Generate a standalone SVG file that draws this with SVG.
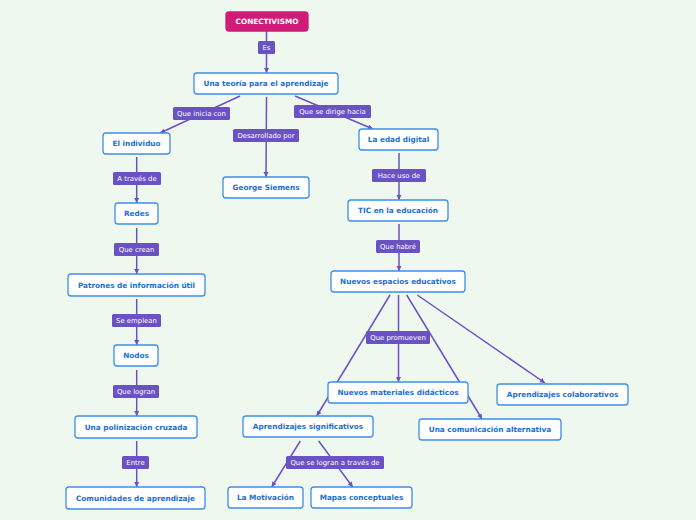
<svg xmlns="http://www.w3.org/2000/svg" width="696" height="520" viewBox="0 0 696 520">
<defs>
<marker id="ah" viewBox="0 0 10 10" refX="10" refY="5" markerWidth="5" markerHeight="5" markerUnits="userSpaceOnUse" orient="auto" overflow="visible">
<path d="M0,0 L10,5 L0,10 z" fill="#6b52c4"/>
</marker>
<style>
.n rect{fill:#ffffff;stroke:#3b8ee8;stroke-width:1.3}
.n text{font-family:"DejaVu Sans",Verdana,sans-serif;font-weight:bold;font-size:7.3px;fill:#1a6fd0;text-anchor:middle}
.root rect{fill:#d01b78;stroke:#d01b78}
.root text{fill:#ffffff}
.c line{stroke:#6b52c4;stroke-width:1.5;fill:none}
.c .a{marker-end:url(#ah)}
.l rect{fill:#6b52c4}
.l text{font-family:"DejaVu Sans",Verdana,sans-serif;font-size:6.9px;fill:#ffffff;text-anchor:middle}
</style>
</defs>
<rect width="696" height="520" fill="#eff8ee"/>
<g id="connectors" class="c">
<line class="a" x1="266.5" y1="31" x2="266.5" y2="73"/>
<line class="a" x1="240" y1="96" x2="160" y2="133"/>
<line class="a" x1="266.5" y1="97" x2="266" y2="177"/>
<line class="a" x1="295" y1="96" x2="373" y2="129"/>
<line class="a" x1="136.7" y1="157" x2="136.7" y2="203"/>
<line class="a" x1="136.7" y1="228" x2="136.7" y2="274"/>
<line class="a" x1="136.7" y1="299" x2="136.7" y2="345"/>
<line class="a" x1="136.7" y1="370" x2="136.7" y2="416"/>
<line class="a" x1="136.7" y1="441" x2="136.7" y2="487"/>
<line class="a" x1="399" y1="153" x2="399" y2="200"/>
<line class="a" x1="399" y1="224" x2="399" y2="271"/>
<line class="a" x1="390" y1="295" x2="316.7" y2="416"/>
<line class="a" x1="398.5" y1="295" x2="398.5" y2="382"/>
<line class="a" x1="406.7" y1="295" x2="482" y2="419"/>
<line class="a" x1="417.3" y1="295" x2="545" y2="383"/>
<line class="a" x1="300.3" y1="441" x2="271.7" y2="487"/>
<line class="a" x1="318.7" y1="441" x2="352.7" y2="487"/>
</g>
<g id="labels" class="l">
<g id="l-es"><rect x="258" y="41" width="17" height="13" rx="1.5"/><text x="266.5" y="50">Es</text></g>
<g id="l-inicia"><rect x="173" y="107" width="57" height="13" rx="1.5"/><text x="201.5" y="116">Que inicia con</text></g>
<g id="l-desarrollado"><rect x="233" y="129" width="66" height="13" rx="1.5"/><text x="266" y="138">Desarrollado por</text></g>
<g id="l-dirige"><rect x="294" y="105" width="77" height="13" rx="1.5"/><text x="332.5" y="114">Que se dirige hacia</text></g>
<g id="l-traves"><rect x="113" y="172" width="48" height="13" rx="1.5"/><text x="137" y="181">A través de</text></g>
<g id="l-crean"><rect x="114" y="243" width="45" height="13" rx="1.5"/><text x="136.5" y="252">Que crean</text></g>
<g id="l-emplean"><rect x="112" y="314" width="49" height="13" rx="1.5"/><text x="136.5" y="323">Se emplean</text></g>
<g id="l-logran"><rect x="113" y="385" width="46" height="13" rx="1.5"/><text x="136" y="394">Que logran</text></g>
<g id="l-entre"><rect x="122" y="456" width="27" height="13" rx="1.5"/><text x="135.5" y="465">Entre</text></g>
<g id="l-hace"><rect x="372" y="169" width="54" height="13" rx="1.5"/><text x="399" y="178">Hace uso de</text></g>
<g id="l-habre"><rect x="376" y="240" width="44" height="13" rx="1.5"/><text x="398" y="249">Que habré</text></g>
<g id="l-promueven"><rect x="366" y="331" width="64" height="13" rx="1.5"/><text x="398" y="340">Que promueven</text></g>
<g id="l-logran2"><rect x="286" y="456" width="98" height="13" rx="1.5"/><text x="335" y="465">Que se logran a través de</text></g>
</g>
<g id="n-conectivismo" class="n root"><rect x="226" y="12" width="82" height="19" rx="3"/><text x="267" y="24">CONECTIVISMO</text></g>
<g id="n-teoria" class="n"><rect x="194" y="73" width="144" height="21" rx="3"/><text x="266" y="86">Una teoría para el aprendizaje</text></g>
<g id="n-individuo" class="n"><rect x="103" y="133" width="67" height="21" rx="3"/><text x="136.5" y="146">El individuo</text></g>
<g id="n-siemens" class="n"><rect x="223" y="177" width="86" height="21" rx="3"/><text x="266" y="190">George Siemens</text></g>
<g id="n-edad" class="n"><rect x="359" y="129" width="79" height="21" rx="3"/><text x="398.5" y="142">La edad digital</text></g>
<g id="n-redes" class="n"><rect x="115" y="203" width="43" height="21" rx="3"/><text x="136.5" y="216">Redes</text></g>
<g id="n-patrones" class="n"><rect x="68" y="274" width="137" height="22" rx="3"/><text x="136.5" y="287.5">Patrones de información útil</text></g>
<g id="n-nodos" class="n"><rect x="114" y="345" width="44" height="21" rx="3"/><text x="136" y="358">Nodos</text></g>
<g id="n-polinizacion" class="n"><rect x="75" y="416" width="122" height="22" rx="3"/><text x="136" y="429.5">Una polinización cruzada</text></g>
<g id="n-comunidades" class="n"><rect x="66" y="487" width="139" height="22" rx="3"/><text x="135.5" y="500.5">Comunidades de aprendizaje</text></g>
<g id="n-tic" class="n"><rect x="348" y="200" width="100" height="21" rx="3"/><text x="398" y="213">TIC en la educación</text></g>
<g id="n-espacios" class="n"><rect x="331" y="271" width="134" height="21" rx="3"/><text x="398" y="284">Nuevos espacios educativos</text></g>
<g id="n-materiales" class="n"><rect x="328" y="382" width="140" height="21" rx="3"/><text x="398" y="395">Nuevos materiales didácticos</text></g>
<g id="n-colaborativos" class="n"><rect x="497" y="384" width="131" height="21" rx="3"/><text x="562.5" y="397">Aprendizajes colaborativos</text></g>
<g id="n-comunicacion" class="n"><rect x="419" y="419" width="142" height="21" rx="3"/><text x="490" y="432">Una comunicación alternativa</text></g>
<g id="n-significativos" class="n"><rect x="243" y="416" width="130" height="21" rx="3"/><text x="308" y="429">Aprendizajes significativos</text></g>
<g id="n-motivacion" class="n"><rect x="228" y="487" width="75" height="21" rx="3"/><text x="265.5" y="500">La Motivación</text></g>
<g id="n-mapas" class="n"><rect x="311" y="487" width="101" height="21" rx="3"/><text x="361.5" y="500">Mapas conceptuales</text></g>
</svg>
